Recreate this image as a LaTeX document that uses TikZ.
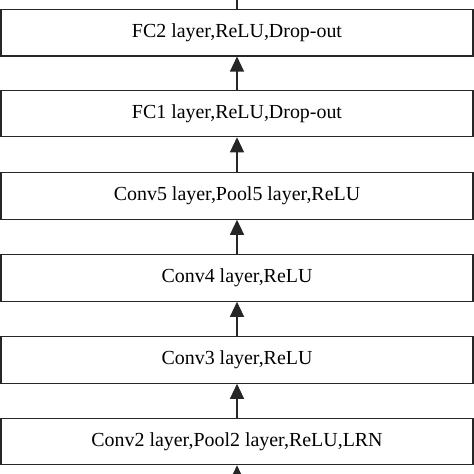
\documentclass[tikz,border=0pt]{standalone}
\usepackage{fontspec}
\setmainfont{Liberation Serif}
\usetikzlibrary{arrows.meta}

\begin{document}
\begin{tikzpicture}
  [x=1bp,y=-1bp,
   layer/.style={draw=black!85,line width=1.1bp,minimum width=472bp,minimum height=46.5bp,
                 inner sep=0pt,font=\fontsize{20}{24}\selectfont},
   flow/.style={draw=black!85,line width=1.3bp,-{Triangle[width=14bp,length=15bp]}}]
  \useasboundingbox (0,0) rectangle (474,474);
  \clip (0,0) rectangle (474,474);
  \node[layer] (fc2) at (237,32.75) {FC2 layer,ReLU,Drop-out};
  \node[layer] (fc1) at (237,113.5) {FC1 layer,ReLU,Drop-out};
  \node[layer] (c5) at (237,196) {Conv5 layer,Pool5 layer,ReLU};
  \node[layer] (c4) at (237,278) {Conv4 layer,ReLU};
  \node[layer] (c3) at (237,360) {Conv3 layer,ReLU};
  \node[layer] (c2) at (237,441.5) {Conv2 layer,Pool2 layer,ReLU,LRN};
  \coordinate (out) at (237,-20);
  \coordinate (in) at (237,520);

  \foreach \from/\to in {in/c2,c2/c3,c3/c4,c4/c5,c5/fc1,fc1/fc2}
    \draw[flow] (\from) -- (\to);
  \draw[draw=black!85,line width=1.3bp] (fc2) -- (out);
\end{tikzpicture}
\end{document}
